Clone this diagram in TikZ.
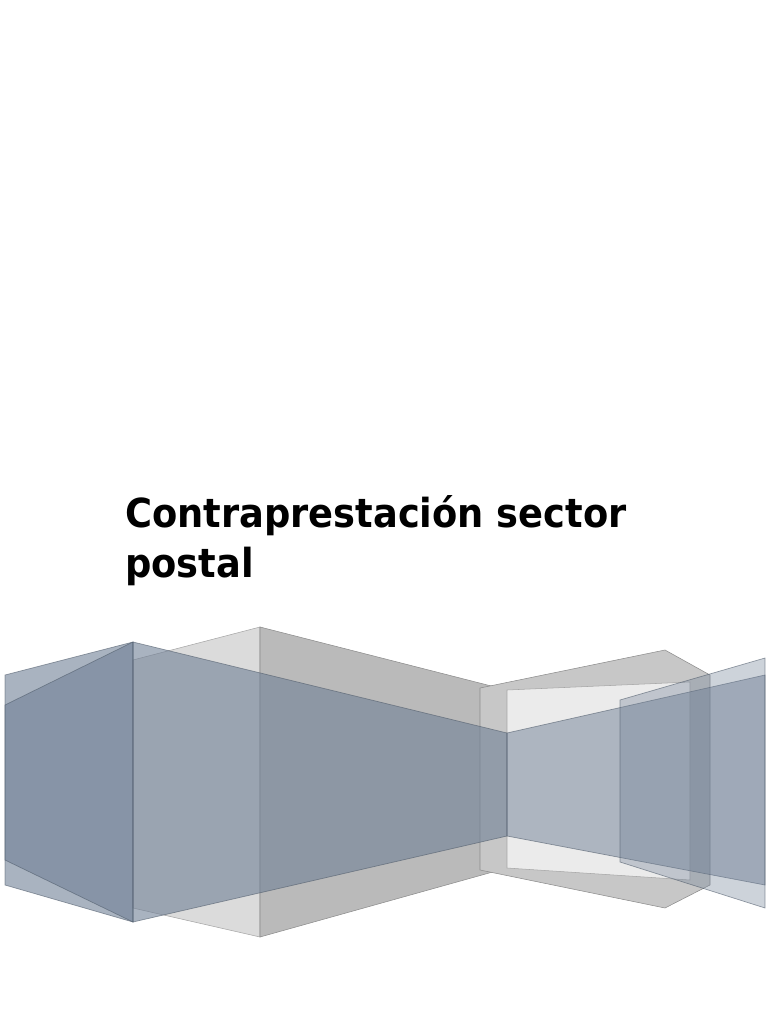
\documentclass[tikz,border=0pt]{standalone}
\usepackage{fontspec}
\setmainfont{DejaVu Sans}
\definecolor{steel}{RGB}{112,128,150}
\begin{document}
\begin{tikzpicture}[x=0.75pt,y=-0.75pt,
  lgray/.style={fill=black!14,draw=black!35,line width=0.4pt},
  mgray/.style={fill=black!27,draw=black!45,line width=0.4pt},
  bpanel/.style={fill=steel,fill opacity=0.6,draw=steel!70!black,draw opacity=0.6,line width=0.5pt}]
\useasboundingbox (0,0) rectangle (768,1024);
% gray folded band
\path[lgray] (133,660) -- (260,627) -- (260,937) -- (133,908) -- cycle;
\path[mgray] (260,627) -- (507,690) -- (507,868) -- (260,937) -- cycle;
\path[mgray,fill=black!22] (480,688) -- (665,650) -- (710,675) -- (710,885) -- (665,908) -- (480,870) -- cycle;
\path[lgray,fill=black!8] (507,690) -- (690,682) -- (690,880) -- (507,868) -- cycle;
% blue panels
\path[bpanel] (5,675) -- (133,642) -- (133,922) -- (5,885) -- cycle;
\path[bpanel] (5,705) -- (133,642) -- (133,922) -- (5,860) -- cycle;
\path[bpanel] (133,642) -- (507,733) -- (507,836) -- (133,922) -- cycle;
\path[bpanel,fill opacity=0.5] (507,733) -- (765,675) -- (765,885) -- (507,836) -- cycle;
\path[bpanel,fill opacity=0.35] (620,700) -- (765,658) -- (765,908) -- (620,862) -- cycle;
\node[anchor=base west,font=\bfseries\fontsize{30}{37.5}\selectfont,align=left,inner sep=0pt,xscale=0.92] (title) at (125,577) {Contraprestación sector\\postal};
\end{tikzpicture}
\end{document}
